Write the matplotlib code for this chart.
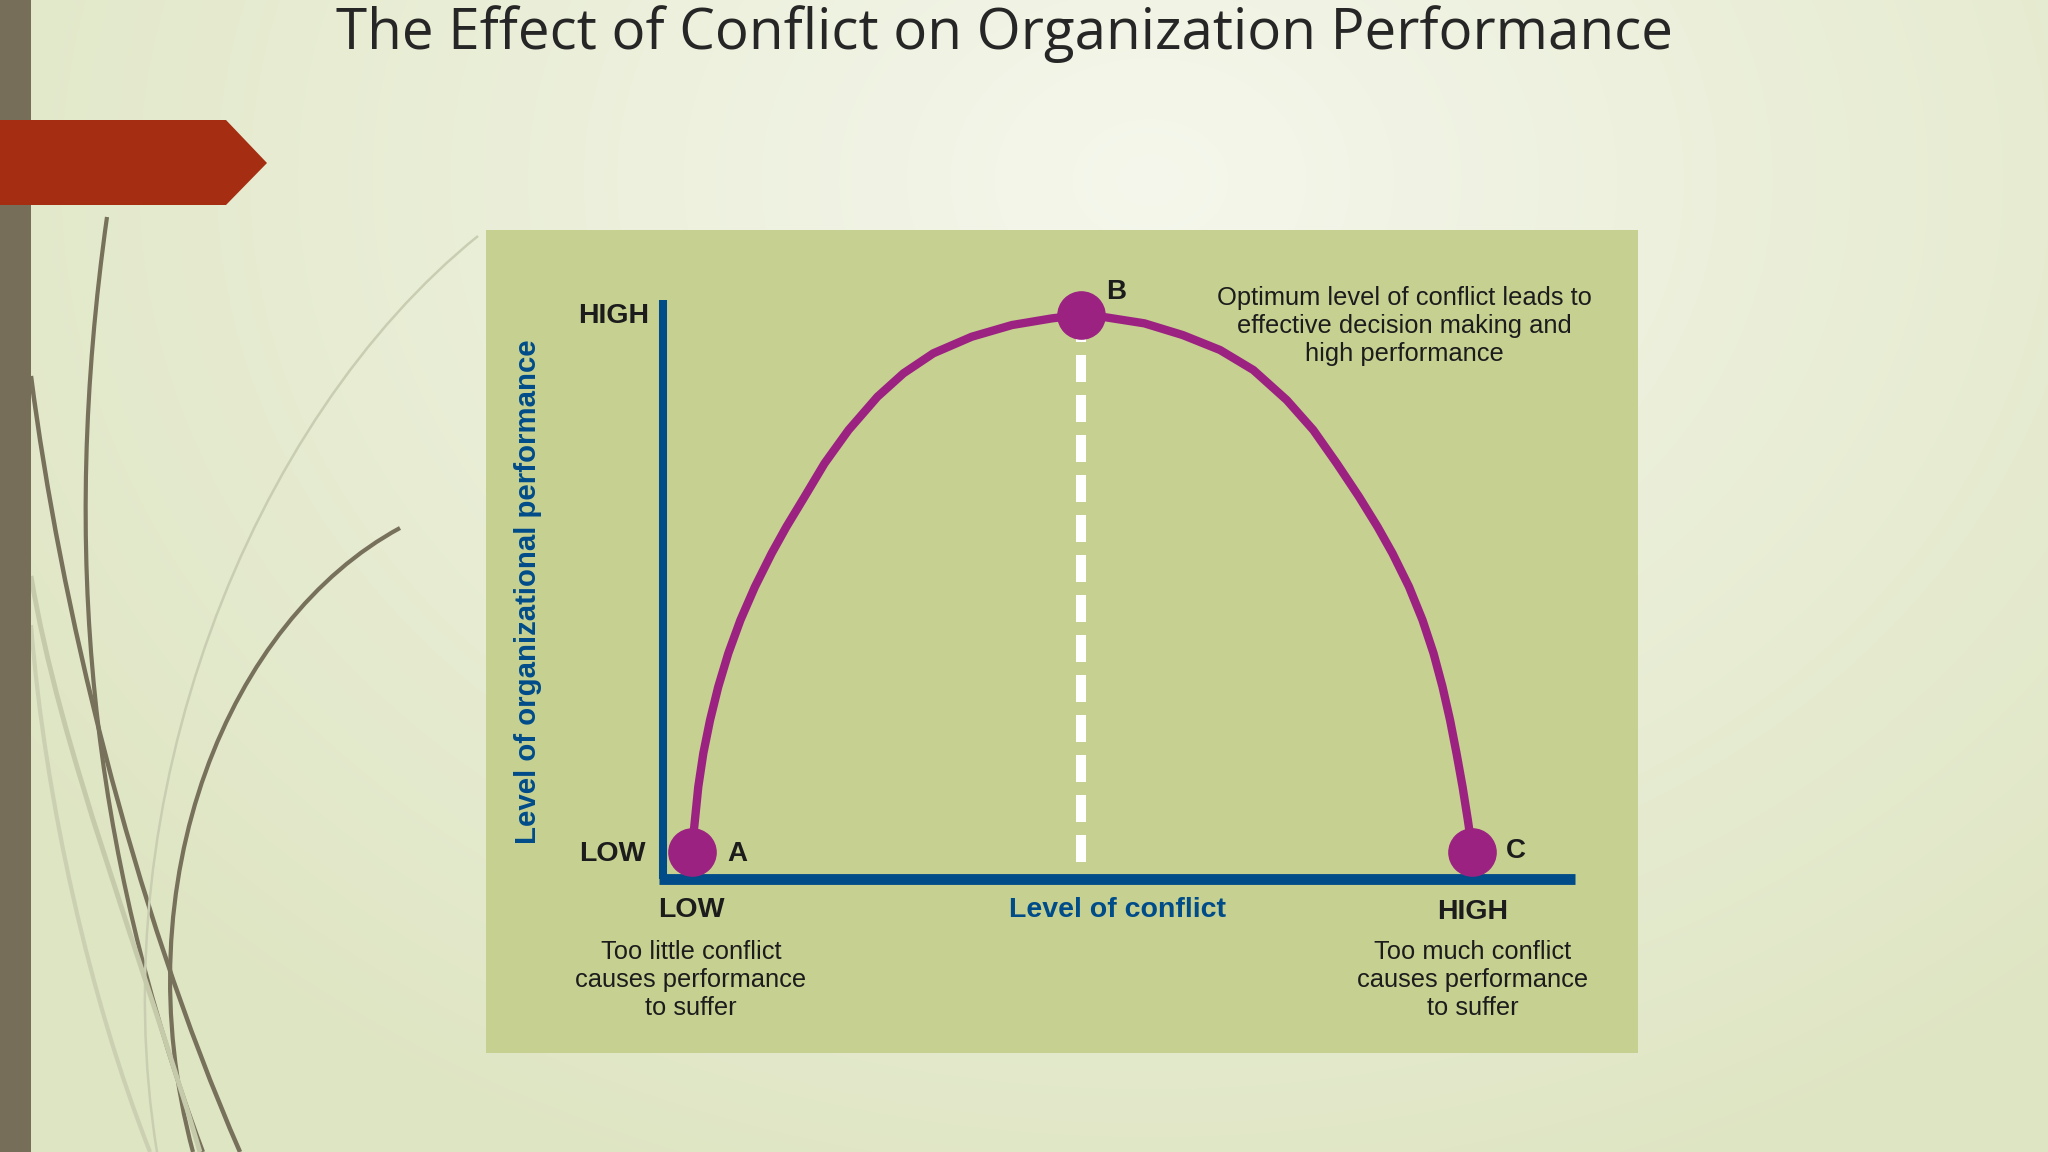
import numpy as np
import matplotlib
matplotlib.use("Agg")
import matplotlib.pyplot as plt
from matplotlib.path import Path
from matplotlib.patches import PathPatch, Polygon

# Points (level of conflict, level of performance), 0..100 scale
conflict = [3.18, 3.90, 4.45, 5.19, 6.09, 7.19, 8.52, 10.11, 11.94, 13.56,
            15.55, 17.74, 20.37, 23.54, 26.39, 29.66, 33.87, 38.29, 42.67, 45.80,
            48.61, 52.80, 57.00, 61.09, 64.74, 68.40, 71.31, 73.88, 76.32, 78.35,
            79.99, 81.80, 83.28, 84.49, 85.47, 86.30, 87.01, 87.67, 88.25, 88.76]
performance = [4.78, 15.99, 21.75, 27.49, 33.24, 39.00, 44.74, 50.48, 56.24, 60.83,
               66.00, 71.76, 77.51, 83.25, 87.29, 90.74, 93.60, 95.62, 96.77, 97.34,
               96.94, 95.91, 93.89, 91.31, 87.86, 82.68, 77.51, 71.76, 66.00, 60.83,
               56.24, 50.48, 44.74, 39.00, 33.24, 27.49, 21.75, 15.99, 10.25, 4.78]

point_names = ["A", "B", "C"]
point_x = [3.18, 45.80, 88.76]
point_y = [4.78, 97.34, 4.78]

title = "The Effect of Conflict on Organization Performance"
y_label = "Level of organizational performance"
x_label = "Level of conflict"
low_note = "Too little conflict\ncauses performance\nto suffer"
high_note = "Too much conflict\ncauses performance\nto suffer"
optimum_note = "Optimum level of conflict leads to\neffective decision making and\nhigh performance"

W, H = 2048, 1152
fig = plt.figure(figsize=(W / 100, H / 100), dpi=100)

# slide background
bg = fig.add_axes([0, 0, 1, 1])
bg.set_xlim(0, W)
bg.set_ylim(H, 0)
bg.axis("off")
yy, xx = np.mgrid[0:H, 0:W]
r = np.sqrt(((xx - 1150) / 1400.0) ** 2 + ((yy - 180) / 1100.0) ** 2)
r = np.clip(r, 0, 1)[..., None]
c_in = np.array([0xf5, 0xf7, 0xec]) / 255.0
c_out = np.array([0xde, 0xe5, 0xc2]) / 255.0
bg.imshow(c_in * (1 - r) + c_out * r, extent=(0, W, H, 0), aspect="auto", zorder=0)

# decorative swooshes
swooshes = [
    ([(107, 217), (60, 550), (90, 850), (203, 1152)], "#77705a", 3.0),
    ([(31, 376), (60, 600), (130, 900), (240, 1152)], "#77705a", 3.2),
    ([(400, 528), (230, 620), (120, 880), (193, 1152)], "#77705a", 3.0),
    ([(478, 236), (250, 420), (100, 800), (157, 1152)], "#c9ceb2", 1.8),
    ([(31, 576), (60, 750), (140, 950), (200, 1152)], "#c5caab", 3.5),
    ([(31, 625), (45, 800), (90, 1000), (150, 1152)], "#cbd0b3", 3.0),
]
for pts, col, lw in swooshes:
    p = Path(pts, [Path.MOVETO, Path.CURVE4, Path.CURVE4, Path.CURVE4])
    bg.add_patch(PathPatch(p, fill=False, edgecolor=col, lw=lw, zorder=1))

bg.fill_between([0, 31], 0, H, color="#766e59", zorder=2, lw=0)
bg.add_patch(Polygon([(0, 120), (226, 120), (267, 163), (226, 205), (0, 205)],
                     closed=True, color="#a52e12", lw=0, zorder=3))

fig.text(0.4905, 0.970, title, ha="center", va="center", fontsize=40.7,
         family="Open Sans", color="#262626")

# chart panel
ax = fig.add_axes([0.2373, 0.0859, 0.5625, 0.7144])
ax.set_facecolor("#c6d091")
ax.set_xlim(-19.37, 106.9)
ax.set_ylim(-29.94, 112.0)
ax.set_xticks([])
ax.set_yticks([])
for s in ax.spines.values():
    s.set_visible(False)

blue = "#004c89"
purple = "#9c2282"
ax.plot([0, 0], [0, 100], color=blue, lw=5.8, solid_capstyle="butt", zorder=2)
ax.plot([-0.4, 100], [0, 0], color=blue, lw=7.8, solid_capstyle="butt", zorder=2)

ax.plot([point_x[1], point_x[1]], [point_y[1], 0.9], color="white", lw=7.2,
        dashes=(2.7, 1.3), dash_capstyle="butt", zorder=3)
ax.plot(conflict, performance, color=purple, lw=6, solid_capstyle="round",
        solid_joinstyle="round", zorder=4)
ax.plot(point_x, point_y, "o", color=purple, ms=34, zorder=5)

font = ["Liberation Sans", "DejaVu Sans"]
dark = "#1c1c1c"
offsets = [(3.9, -0.35), (2.8, 3.9), (3.7, 0.2)]
for name, px, py, (dx, dy) in zip(point_names, point_x, point_y, offsets):
    ax.text(px + dx, py + dy, name, ha="left", va="center", fontsize=20,
            weight="bold", family=font, color=dark)

ax.text(-1.5, 97.2, "HIGH", ha="right", va="center", fontsize=20.5, weight="bold",
        family=font, color=dark)
ax.text(-1.9, 4.4, "LOW", ha="right", va="center", fontsize=20.5, weight="bold",
        family=font, color=dark)
ax.text(3.1, -5.3, "LOW", ha="center", va="center", fontsize=20.5, weight="bold",
        family=font, color=dark)
ax.text(88.8, -5.6, "HIGH", ha="center", va="center", fontsize=20.5, weight="bold",
        family=font, color=dark)
ax.text(49.8, -5.3, x_label, ha="center", va="center", fontsize=20.5, weight="bold",
        family=font, color=blue)
ax.text(-14.76, 49.7, y_label, ha="center", va="center", rotation=90, fontsize=21.2,
        weight="bold", family=font, color=blue)

ax.text(3.1, -17.35, low_note, ha="center", va="center", fontsize=18.4,
        family=font, color=dark, linespacing=1.2)
ax.text(88.8, -17.35, high_note, ha="center", va="center", fontsize=18.4,
        family=font, color=dark, linespacing=1.2)
ax.text(81.3, 95.5, optimum_note, ha="center", va="center", fontsize=18.4,
        family=font, color=dark, linespacing=1.2)

fig.savefig("out.png", dpi=100)
